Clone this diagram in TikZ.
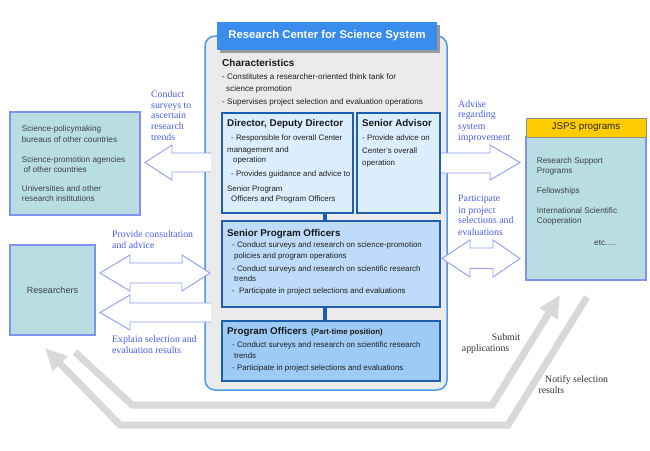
\documentclass[tikz,border=0pt]{standalone}
\usepackage{fontspec}
\setmainfont{Liberation Sans}
\newfontfamily\serifl{Liberation Serif}
\usetikzlibrary{arrows.meta}
\definecolor{ctrfill}{HTML}{EBEBEB}
\definecolor{ctrline}{HTML}{4C9BF2}
\definecolor{titlebg}{HTML}{3A8DEC}
\definecolor{darkblue}{HTML}{1B5FAE}
\definecolor{dirfill}{HTML}{DCEEFD}
\definecolor{spofill}{HTML}{BEDCFA}
\definecolor{pofill}{HTML}{9ECBF6}
\definecolor{tealfill}{HTML}{B8DDE3}
\definecolor{purpline}{HTML}{7F92EE}
\definecolor{arrline}{HTML}{8E9DF3}
\definecolor{lblblue}{HTML}{4A5CF2}
\definecolor{grayarr}{HTML}{D9D9D9}
\definecolor{gold}{HTML}{FFCC00}
\begin{document}
\begin{tikzpicture}[x=1pt,y=-1pt,
  box/.style={draw, anchor=north west, inner sep=0pt, outer sep=0pt},
  bt/.style={anchor=base west, inner sep=0pt, font=\fontsize{7.9}{9}\selectfont, text=black!88},
  ct/.style={anchor=base west, inner sep=0pt, font=\fontsize{8.1}{9}\selectfont, text=black!88},
  hd/.style={anchor=base west, inner sep=0pt, font=\fontsize{9.8}{11}\selectfont\bfseries, text=black!90},
  lt/.style={anchor=base west, inner sep=0pt, font=\fontsize{8.2}{9}\selectfont, text=black!75},
  bl/.style={anchor=base west, inner sep=0pt, font=\serifl\fontsize{9.8}{11}\selectfont, text=lblblue},
  gl/.style={anchor=base west, inner sep=0pt, font=\serifl\fontsize{9.8}{11}\selectfont, text=black!80},
  aoutline/.style={draw=arrline, line width=0.9pt, line join=miter},
  blockfill/.style={fill=white},
  conn/.style={draw=darkblue, line width=3.5pt},
  grayarrow/.style={draw=grayarr, line width=7pt, line join=miter, -{Triangle[width=20pt,length=22pt]}},
]
\useasboundingbox (0,0) rectangle (650,450);
\fill[white] (0,0) rectangle (650,450);

% container
\node[box, draw=ctrline, line width=1.5pt, fill=ctrfill, rounded corners=10pt,
      minimum width=242pt, minimum height=354pt] (ctr) at (205,36) {};
% title bar with shadow
\fill[black!40] (220,25) rectangle (440,53);
\node[box, draw=none, fill=titlebg, minimum width=220pt, minimum height=28pt,
      font=\fontsize{11.3}{13}\selectfont\bfseries, text=white] (title) at (217,22) {Research Center for Science System};

% block arrows
\fill[blockfill] (211,153) -- (172,153) -- (172,145) -- (145,162.5) -- (172,180) -- (172,172) -- (211,172) -- cycle;
\draw[aoutline] (211,153) -- (172,153) -- (172,145) -- (145,162.5) -- (172,180) -- (172,172) -- (211,172);
\fill[blockfill] (441,153) -- (490,153) -- (490,145) -- (520,162.5) -- (490,180) -- (490,173) -- (441,173) -- cycle;
\draw[aoutline] (441,153) -- (490,153) -- (490,145) -- (520,162.5) -- (490,180) -- (490,173) -- (441,173);
\filldraw[aoutline, blockfill] (100,273) -- (130,255) -- (130,263) -- (182,263) -- (182,255) -- (210,273) -- (182,291) -- (182,283) -- (130,283) -- (130,291) -- cycle;
\fill[blockfill] (211,303) -- (130,303) -- (130,295) -- (100,312.5) -- (130,330) -- (130,322) -- (211,322) -- cycle;
\draw[aoutline] (211,303) -- (130,303) -- (130,295) -- (100,312.5) -- (130,330) -- (130,322) -- (211,322);
\filldraw[aoutline, blockfill] (442,258.5) -- (470,240) -- (470,248) -- (493,248) -- (493,240) -- (520,258.5) -- (493,277) -- (493,268.5) -- (470,268.5) -- (470,277) -- cycle;

% characteristics
\node[hd, font=\fontsize{10}{12}\selectfont\bfseries] (chT) at (222,66.3) {Characteristics};
\node[ct] (ch1) at (222,79) {- Constitutes a researcher-oriented think tank for};
\node[ct] (ch2) at (226,91.3) {science promotion};
\node[ct] (ch3) at (222,104) {- Supervises project selection and evaluation operations};

% inner boxes
\node[box, draw=darkblue, line width=2.6pt, fill=dirfill, minimum width=131pt, minimum height=100pt] (dir) at (222,113) {};
\node[box, draw=darkblue, line width=2.6pt, fill=dirfill, minimum width=83pt, minimum height=100pt] (sa) at (357,113) {};
\node[box, draw=darkblue, line width=2.6pt, fill=spofill, minimum width=218pt, minimum height=86pt] (spo) at (222,221) {};
\node[box, draw=darkblue, line width=2.6pt, fill=pofill, minimum width=218pt, minimum height=60pt] (po) at (222,321) {};
\draw[conn] ([xshift=-28pt]dir.south east) -- ([xshift=-28pt]dir.south east |- spo.north);
\draw[conn] ([xshift=103pt]spo.south west) -- ([xshift=103pt]spo.south west |- po.north);

\node[hd] (dirT) at (227,126.8) {Director, Deputy Director};
\node[bt] (dir1) at (231,140.2) {- Responsible for overall Center};
\node[bt] (dir2) at (227,152.2) {management and};
\node[bt] (dir3) at (233,162.9) {operation};
\node[bt] (dir4) at (231,176.9) {- Provides guidance and advice to};
\node[bt] (dir5) at (227,191.2) {Senior Program};
\node[bt] (dir6) at (231,201.2) {Officers and Program Officers};

\node[hd] (saT) at (362,126.8) {Senior Advisor};
\node[bt] (sa1) at (362,140.2) {- Provide advice on};
\node[bt] (sa2) at (362,153.6) {Center’s overall};
\node[bt] (sa3) at (362,165.6) {operation};

\node[hd] (spoT) at (227,236.2) {Senior Program Officers};
\node[bt] (spo1) at (232,247.9) {- Conduct surveys and research on science-promotion};
\node[bt] (spo2) at (234,258.6) {policies and program operations};
\node[bt] (spo3) at (232,271.2) {- Conduct surveys and research on scientific research};
\node[bt] (spo4) at (234,281.9) {trends};
\node[bt] (spo5) at (232,293.6) {-\ \ Participate in project selections and evaluations};

\node[hd] (poT) at (227,334.2) {Program Officers};
\node[hd, font=\fontsize{7.8}{9}\selectfont\bfseries] (poP) at (311,334.2) {(Part-time position)};
\node[bt] (po1) at (232,347.2) {- Conduct surveys and research on scientific research};
\node[bt] (po2) at (234,358.6) {trends};
\node[bt] (po3) at (232,370.2) {- Participate in project selections and evaluations};

% left boxes
\node[box, draw=purpline, line width=1.2pt, fill=tealfill, minimum width=130pt, minimum height=103pt] (orgs) at (10,112) {};
\node[lt] (or1) at (21.7,131.3) {Science-policymaking};
\node[lt] (or2) at (21.7,142) {bureaus of other countries};
\node[lt] (or3) at (21.7,162) {Science-promotion agencies};
\node[lt] (or4) at (23.3,172) {of other countries};
\node[lt] (or5) at (21.7,191.3) {Universities and other};
\node[lt] (or6) at (21.7,201.3) {research institutions};

\node[box, draw=purpline, line width=1.2pt, fill=tealfill, minimum width=85pt, minimum height=90pt,
      font=\fontsize{9}{11}\selectfont, text=black!75] (res) at (10,245) {Researchers};

% JSPS
\node[box, draw=purpline, line width=1.2pt, fill=tealfill, minimum width=120pt, minimum height=143pt] (jb) at (526,137) {};
\node[box, draw=black!45, line width=1pt, fill=gold, minimum width=120pt, minimum height=19pt,
      font=\fontsize{9.8}{11}\selectfont, text=black!85] (jh) at (526,118) {JSPS programs};
\node[lt] (jb1) at (536.7,163) {Research Support};
\node[lt] (jb2) at (536.7,173) {Programs};
\node[lt] (jb3) at (536.7,193) {Fellowships};
\node[lt] (jb4) at (536.7,213) {International Scientific};
\node[lt] (jb5) at (536.7,223) {Cooperation};
\node[lt] (jb6) at (594,245.3) {etc….};

% blue labels
\node[bl] (c1) at (151,97.3) {Conduct};
\node[bl] (c2) at (151,108.3) {surveys to};
\node[bl] (c3) at (151,118.8) {ascertain};
\node[bl] (c4) at (151,129.8) {research};
\node[bl] (c5) at (151,140.3) {trends};
\node[bl] (a1) at (458,107.3) {Advise};
\node[bl] (a2) at (458,117.6) {regarding};
\node[bl] (a3) at (458,129) {system};
\node[bl] (a4) at (458,140) {improvement};
\node[bl] (p1) at (458,201.6) {Participate};
\node[bl] (p2) at (458,213.3) {in project};
\node[bl] (p3) at (458,223.3) {selections and};
\node[bl] (p4) at (458,235) {evaluations};
\node[bl] (v1) at (112,237.6) {Provide consultation};
\node[bl] (v2) at (112,248.3) {and advice};
\node[bl] (e1) at (112,342.6) {Explain selection and};
\node[bl] (e2) at (112,353.3) {evaluation results};

% gray arrows
\coordinate (nStart) at (587,297);
\coordinate (nEnd) at (45,348);
\coordinate (sStart) at (75,352);
\coordinate (sEnd) at (560,295);
\draw[grayarrow] (nStart) -- (508,425) -- (120,425) -- (nEnd);
\draw[grayarrow] (sStart) -- (132,405) -- (492,405) -- (sEnd);

\node[gl] (s1) at (491.7,340) {Submit};
\node[gl] (s2) at (461.7,351) {applications};
\node[gl] (n1) at (545,382.6) {Notify selection};
\node[gl] (n2) at (538.3,393.3) {results};
\end{tikzpicture}
\end{document}
